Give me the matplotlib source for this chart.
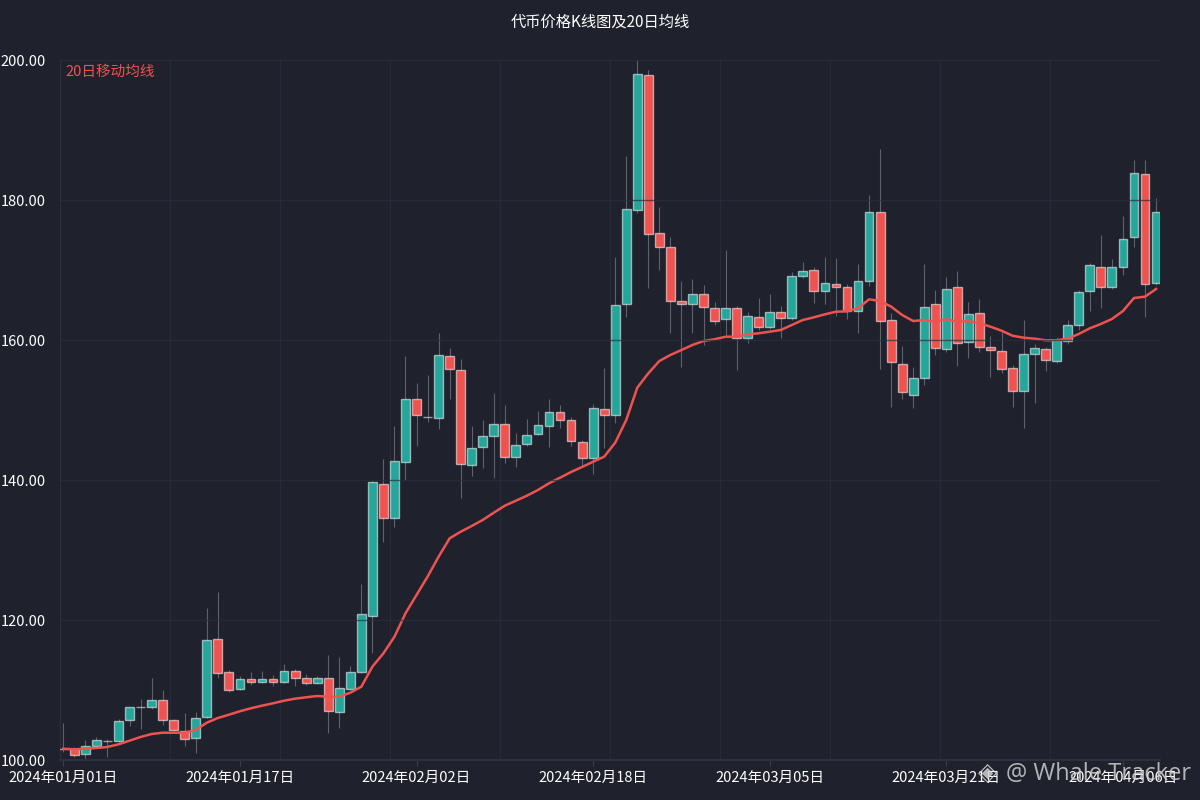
import matplotlib
matplotlib.use("Agg")
import matplotlib.pyplot as plt
import numpy as np
import pandas as pd

# daily candles, price axis 100 - 200
dates = pd.date_range("2024-01-01", periods=100, freq="D")

opens = [101.61, 101.61, 100.81, 102.00, 102.71, 102.76, 105.67, 107.53, 107.53, 108.53,
         105.71, 104.19, 103.10, 106.10, 117.33, 112.53, 110.19, 111.53, 111.10, 111.53,
         111.10, 112.67, 111.71, 111.00, 111.67, 106.86, 110.14, 112.57, 120.61, 139.43,
         134.61, 142.61, 151.61, 149.00, 148.90, 157.71, 155.71, 142.14, 144.76, 146.24,
         147.96, 143.24, 145.14, 146.61, 147.76, 149.67, 148.57, 145.47, 143.19, 150.14,
         149.29, 165.14, 178.57, 197.81, 175.24, 173.24, 165.53, 165.19, 166.61, 164.61,
         162.96, 164.53, 160.24, 163.29, 161.81, 164.04, 163.10, 169.19, 170.00, 167.00,
         167.96, 167.61, 164.19, 168.43, 178.33, 162.86, 156.57, 152.14, 154.61, 165.10,
         158.67, 167.53, 159.76, 163.81, 158.96, 158.47, 156.04, 152.71, 157.96, 158.76,
         157.00, 159.81, 162.10, 167.00, 170.47, 167.61, 170.39, 174.67, 183.67, 168.10]

highs = [105.33, 101.86, 102.86, 103.29, 103.00, 105.86, 107.61, 108.76, 111.71, 110.00,
         105.86, 106.71, 106.90, 121.67, 124.04, 112.86, 112.00, 112.61, 112.71, 112.14,
         113.71, 113.00, 112.29, 112.00, 115.00, 114.76, 113.43, 125.14, 139.86, 143.00,
         147.71, 157.71, 153.90, 155.00, 160.96, 158.81, 157.24, 147.71, 148.57, 152.47,
         150.71, 146.67, 148.71, 149.86, 151.57, 150.71, 148.96, 145.71, 150.86, 155.96,
         171.90, 186.29, 200.00, 198.57, 179.04, 174.67, 168.43, 168.71, 167.86, 165.39,
         172.86, 164.90, 164.04, 166.04, 166.57, 164.90, 169.76, 171.19, 170.47, 171.90,
         171.76, 168.00, 170.86, 180.71, 187.24, 163.81, 159.14, 156.10, 170.86, 167.14,
         169.04, 169.86, 165.39, 165.86, 160.57, 161.19, 156.43, 162.86, 159.43, 159.04,
         160.47, 162.86, 167.14, 170.96, 175.00, 171.57, 177.71, 185.71, 185.71, 180.33]

lows = [101.19, 100.43, 100.14, 101.86, 100.47, 102.57, 104.86, 104.39, 107.29, 105.00,
        104.14, 102.00, 100.96, 106.00, 111.76, 109.71, 110.00, 110.71, 110.96, 110.61,
        111.00, 110.61, 110.71, 110.86, 103.86, 104.53, 110.00, 112.43, 115.24, 131.19,
        133.33, 140.00, 144.90, 148.33, 147.33, 151.61, 137.47, 140.61, 141.76, 140.24,
        142.47, 141.90, 144.86, 146.43, 144.76, 147.39, 144.90, 141.90, 140.86, 144.53,
        148.10, 163.33, 178.10, 167.47, 170.00, 160.96, 156.19, 160.96, 159.29, 162.14,
        160.71, 155.71, 159.53, 161.43, 161.57, 160.24, 162.86, 168.81, 165.33, 165.10,
        163.43, 162.96, 161.04, 167.71, 155.81, 150.47, 151.57, 150.24, 153.57, 157.86,
        158.29, 156.33, 157.47, 158.33, 154.67, 155.24, 150.39, 147.39, 150.96, 155.61,
        156.71, 159.43, 161.43, 164.19, 164.53, 167.24, 169.29, 173.33, 163.24, 167.86]

closes = [101.61, 100.71, 101.96, 102.81, 102.71, 105.61, 107.53, 107.53, 108.53, 105.71,
          104.24, 103.04, 106.00, 117.10, 112.43, 109.96, 111.61, 111.10, 111.53, 111.10,
          112.67, 111.67, 110.93, 111.76, 106.93, 110.24, 112.61, 120.86, 139.76, 134.61,
          142.67, 151.61, 149.24, 149.00, 157.86, 155.90, 142.29, 144.61, 146.33, 148.04,
          143.33, 145.00, 146.47, 147.81, 149.67, 148.57, 145.53, 143.19, 150.24, 149.24,
          165.00, 178.67, 198.00, 175.10, 173.24, 165.61, 165.10, 166.61, 164.71, 162.76,
          164.53, 160.33, 163.43, 161.81, 164.04, 163.10, 169.14, 169.90, 167.00, 168.10,
          167.61, 164.14, 168.47, 178.33, 162.71, 156.90, 152.53, 154.53, 164.76, 158.81,
          167.24, 159.53, 163.71, 158.96, 158.53, 155.90, 152.71, 158.00, 158.81, 157.14,
          160.00, 162.10, 166.86, 170.67, 167.53, 170.39, 174.47, 183.81, 168.00, 178.24]

ma20 = [101.61, 101.53, 101.61, 101.71, 101.86, 102.24, 102.76, 103.29, 103.71, 103.90,
        103.90, 103.90, 104.29, 105.33, 106.00, 106.47, 106.96, 107.39, 107.76, 108.10,
        108.47, 108.76, 108.96, 109.14, 109.04, 109.04, 109.61, 110.47, 113.33, 115.24,
        117.61, 120.96, 123.57, 126.19, 129.04, 131.67, 132.61, 133.43, 134.29, 135.33,
        136.33, 137.04, 137.76, 138.57, 139.53, 140.33, 141.14, 141.86, 142.61, 143.33,
        145.33, 148.57, 153.19, 155.24, 157.00, 157.86, 158.57, 159.29, 159.86, 160.10,
        160.47, 160.47, 160.81, 160.96, 161.19, 161.43, 162.14, 162.86, 163.24, 163.67,
        164.04, 164.10, 164.53, 165.81, 165.57, 164.76, 163.57, 162.71, 162.86, 162.61,
        162.96, 162.61, 162.71, 162.39, 161.90, 161.33, 160.61, 160.33, 160.19, 159.96,
        159.96, 160.19, 160.86, 161.67, 162.29, 163.00, 164.14, 166.00, 166.19, 167.29]

y_ticks = [100, 120, 140, 160, 180, 200]
title = "代币价格K线图及20日均线"
ma_label = "20日移动均线"

bg = "#1f222d"
up = "#26a69a"
down = "#ef5350"

plt.rcParams['font.family'] = ['Noto Sans CJK SC', 'DejaVu Sans']

fig = plt.figure(figsize=(12, 8), dpi=100, facecolor=bg)
ax = fig.add_axes([0.05, 0.05, 0.9167, 0.875])
ax.set_facecolor(bg)

o = np.array(opens)
h = np.array(highs)
l = np.array(lows)
c = np.array(closes)
x = np.arange(len(c))
colors = np.where(c >= o, up, down)

ax.vlines(x, l, h, color="#8a8d96", lw=0.8, alpha=0.6, zorder=2)
ax.bar(x, np.abs(c - o), bottom=np.minimum(o, c), width=0.8, color=colors,
       edgecolor=(1, 1, 1, 0.55), linewidth=1.0, zorder=3)
ax.plot(x, ma20, color=down, lw=1.8, zorder=4)

ax.set_xlim(-0.3, 99.36)
ax.set_ylim(100, 200)

# grid: y at price ticks, x at 10 equal slices
ax.set_yticks(y_ticks)
ax.set_yticklabels(["%.2f" % v for v in y_ticks])
ax.set_xticks(np.linspace(-0.3, 99.36, 11), minor=True)
ax.set_xticks(x[::16])
ax.set_xticklabels([d.strftime("%Y年%m月%d日") for d in dates[::16]])
ax.grid(False)
for v in y_ticks:
    ax.axhline(v, color="#2c303c", lw=1, alpha=0.7, zorder=5)
for v in np.linspace(-0.3, 99.36, 11):
    ax.axvline(v, color="#2c303c", lw=1, alpha=0.7, zorder=1)

ax.tick_params(axis="x", which="major", colors="#3a3e4a", length=4, labelcolor="white",
               labelsize=10.5, pad=4)
ax.tick_params(axis="x", which="minor", length=0)
ax.tick_params(axis="y", length=0, labelcolor="white", labelsize=10.5, pad=10)
for s in ["top", "right"]:
    ax.spines[s].set_visible(False)
ax.spines["left"].set_color("#2c303c")
ax.spines["bottom"].set_color("#2c3040")
ax.spines["bottom"].set_linewidth(1.5)

ax.text(0.0045, 0.983, ma_label, transform=ax.transAxes, color=down,
        fontsize=10.5, ha="left", va="center")
fig.text(0.5, 0.9725, title, color="white", fontsize=11, ha="center", va="center")

# watermark
fig.text(0.823, 0.034, "◈", color="#d0d0d0", fontsize=18, ha="center", va="center",
         family="DejaVu Sans", alpha=0.85)
fig.text(0.993, 0.032, "@ Whale Tracker", color="#cfcfcf", fontsize=17, ha="right",
         va="center", family="Open Sans", alpha=0.85)

fig.savefig("out.png", dpi=100, facecolor=bg)
